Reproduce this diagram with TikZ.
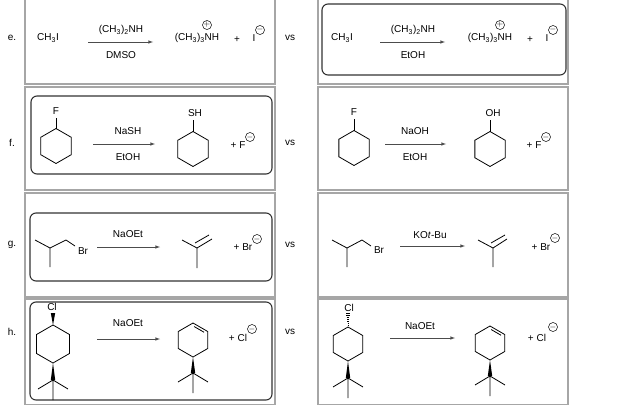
\documentclass[tikz,border=0pt]{standalone}
\usepackage{fontspec}
\setmainfont{Liberation Sans}
\usetikzlibrary{calc}
\begin{document}
\begin{tikzpicture}[x=1pt,y=-1pt,line width=0.8pt,
  txt/.style={font=\fontsize{10}{12}\selectfont,inner sep=0pt},
  panel/.style={draw=gray!70,line width=1.6pt},
  rbox/.style={draw=black!80,line width=1.1pt,rounded corners=6pt},
  rxn/.style={-latex,line width=0.6pt,draw=black!70},
  chg/.style={circle,draw,line width=0.5pt,minimum size=9pt,inner sep=0pt,font=\fontsize{8}{8}\selectfont}]
\useasboundingbox (0,0) rectangle (636,404);
\newcommand\mns[2]{\node[chg] at (#1,#2) {$-$};}
\newcommand\pls[2]{\node[chg] at (#1,#2) {$+$};}
\newcommand\ring[3]{\draw (#1,#2)+(90:#3)--+(30:#3)--+(-30:#3)--+(-90:#3)--+(-150:#3)--+(150:#3)--cycle;}
\newcommand\tbu[2]{\draw (#1,#2)--++(-15,9) (#1,#2)--++(15,9) (#1,#2)--++(0,20);}
\newcommand\wdg[4]{\fill (#1,#2)--(#3-2.2,#4)--(#3+2.2,#4)--cycle;}
% panels
\foreach \x in {25,318}{
  \draw[panel] (\x,-2) rectangle ++(250,86);
  \draw[panel] (\x,87) rectangle ++(250,103);
  \draw[panel] (\x,193) rectangle ++(250,104);
  \draw[panel] (\x,299) rectangle ++(250,106);
}
\draw[rbox] (322,4) rectangle (566,75);
\draw[rbox] (31,96) rectangle (272,174);
\draw[rbox] (30,213) rectangle (272,281);
\draw[rbox] (30,302) rectangle (272,400);
% labels
\node[txt] (le) at (12,38) {e.};
\node[txt] (lf) at (12,143) {f.};
\node[txt] (lg) at (12,245) {g.};
\node[txt] (lh) at (12,332) {h.};
\foreach \y/\n in {38/a,143/b,245/c,332/d}{\node[txt] (vs\n) at (290,\y) {vs};}
% ---- row e left
\node[txt] (e1) at (48,38) {CH\textsubscript{3}I};
\node[txt] (e2) at (121,30) {(CH\textsubscript{3})\textsubscript{2}NH};
\node[txt] (e3) at (121,55) {DMSO};
\coordinate (ea) at (88,42); \coordinate (eb) at (153,42);
\draw[rxn] (ea)--(eb);
\node[txt] (e4) at (197,38) {(CH\textsubscript{3})\textsubscript{3}NH};
\pls{207}{25}
\node[txt] (e5) at (237,40) {+};
\node[txt] (e6) at (254,38) {I}; \mns{260}{30}
% ---- row e right
\node[txt] (r1) at (342,38) {CH\textsubscript{3}I};
\node[txt] (r2) at (413,30) {(CH\textsubscript{3})\textsubscript{2}NH};
\node[txt] (r3) at (413,55) {EtOH};
\coordinate (ra) at (380,42); \coordinate (rb) at (445,42);
\draw[rxn] (ra)--(rb);
\node[txt] (r4) at (490,38) {(CH\textsubscript{3})\textsubscript{3}NH};
\pls{500}{25}
\node[txt] (r5) at (530,40) {+};
\node[txt] (r6) at (547,38) {I}; \mns{553}{30}
% ---- row f left
\ring{56}{146}{17.5}
\draw (56,128.5)--(56,118);
\node[txt] (f1) at (56,111) {F};
\node[txt] (f2) at (128,131) {NaSH};
\node[txt] (f3) at (128,157) {EtOH};
\coordinate (fa) at (93,144); \coordinate (fb) at (155,144);
\draw[rxn] (fa)--(fb);
\ring{193}{149}{17.5}
\draw (193,131.5)--(193,120);
\node[txt] (f4) at (195,113) {SH};
\node[txt] (f5) at (238,145) {+ F}; \mns{250}{137}
% ---- row f right
\ring{354}{148}{17.5}
\draw (354,130.5)--(354,119);
\node[txt] (g1) at (354,112) {F};
\node[txt] (g2) at (415,131) {NaOH};
\node[txt] (g3) at (415,157) {EtOH};
\coordinate (ga) at (385,144); \coordinate (gb) at (446,144);
\draw[rxn] (ga)--(gb);
\ring{490}{149}{17.5}
\draw (490,131.5)--(490,120);
\node[txt] (g4) at (493,113) {OH};
\node[txt] (g5) at (534,145) {+ F}; \mns{546}{137}
% ---- row g left
\draw (35,240)--(50,248)--(66,240)--(75,246) (50,248)--(50,267);
\node[txt] (h1) at (83,251) {Br};
\node[txt] (h2) at (128,234) {NaOEt};
\coordinate (ha) at (97,247); \coordinate (hb) at (160,247);
\draw[rxn] (ha)--(hb);
\draw (182,240)--(197,248)--(212,239) (197,248)--(197,268) (195,243)--(209,235);
\node[txt] (h3) at (243,247) {+ Br}; \mns{257}{239}
% ---- row g right
\draw (332,240)--(347,248)--(362,240)--(371,246) (347,248)--(347,267);
\node[txt] (i1) at (379,250) {Br};
\node[txt] (i2) at (430,235) {KO\textit{t}-Bu};
\coordinate (ia) at (400,246); \coordinate (ib) at (465,246);
\draw[rxn] (ia)--(ib);
\draw (478,240)--(493,248)--(507,239) (493,248)--(493,267) (491,243)--(505,235);
\node[txt] (i3) at (541,247) {+ Br}; \mns{555}{238}
% ---- row h left
\ring{53}{344}{19}
\wdg{53}{325}{53}{313}
\node[txt] (j1) at (52,307) {Cl};
\wdg{53}{363}{53}{380}
\tbu{53}{380}
\node[txt] (j2) at (128,323) {NaOEt};
\coordinate (ja) at (97,339); \coordinate (jb) at (160,339);
\draw[rxn] (ja)--(jb);
\ring{193}{340}{17}
\draw ($(193,340)+(-85:13.5)$)--($(193,340)+(-35:13.5)$);
\wdg{193}{357}{193}{373}
\tbu{193}{373}
\node[txt] (j3) at (238,338) {+ Cl}; \mns{252}{329}
% ---- row h right
\ring{348}{344}{17}
\foreach \t in {0.1,0.25,...,1}{\draw[line width=0.5pt] (348-1.8*\t,327-14*\t)--(348+1.8*\t,327-14*\t);}
\node[txt] (k1) at (349,308) {Cl};
\wdg{348}{361}{348}{378}
\tbu{348}{378}
\node[txt] (k2) at (420,326) {NaOEt};
\coordinate (ka) at (390,338); \coordinate (kb) at (455,338);
\draw[rxn] (ka)--(kb);
\ring{490}{343}{17}
\draw ($(490,343)+(-85:13.5)$)--($(490,343)+(-35:13.5)$);
\wdg{490}{360}{490}{376}
\tbu{490}{376}
\node[txt] (k3) at (537,338) {+ Cl}; \mns{553}{327}
\end{tikzpicture}
\end{document}
